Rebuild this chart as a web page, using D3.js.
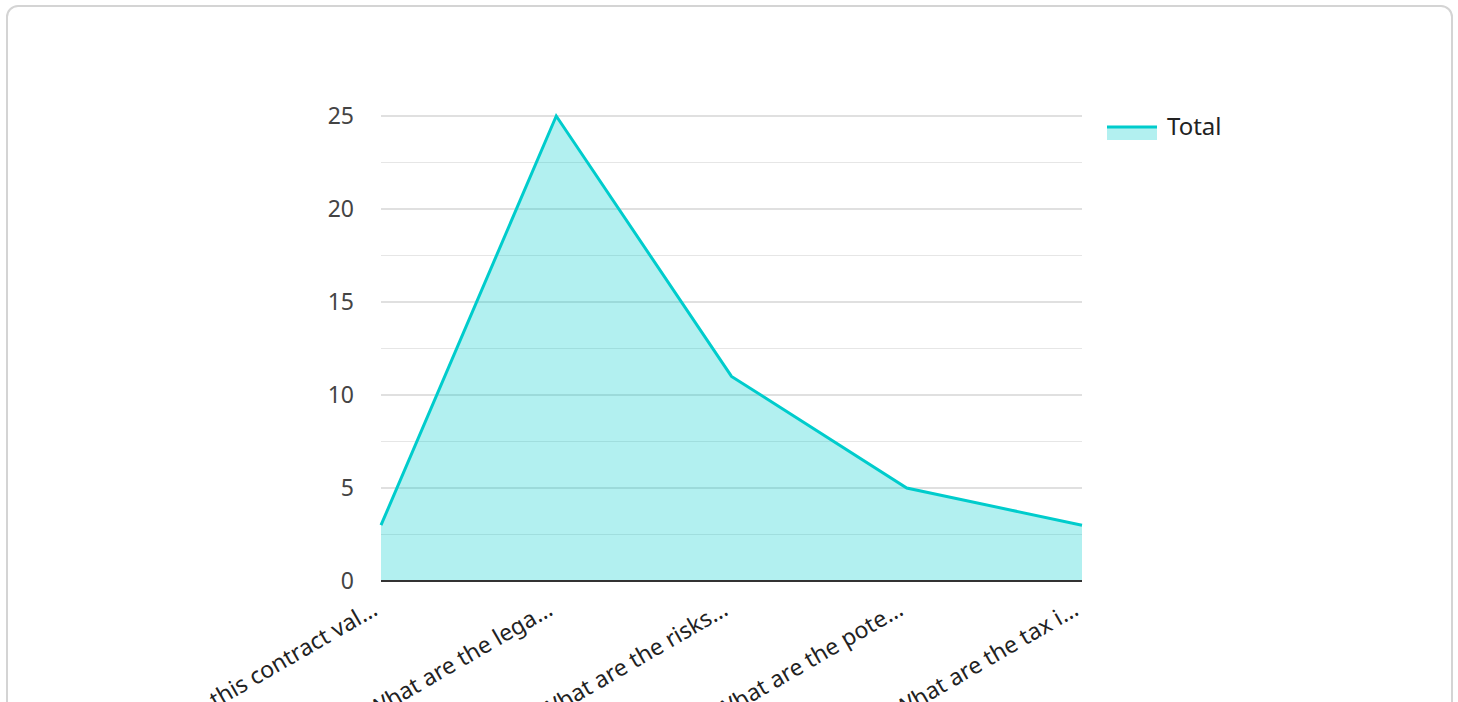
<!DOCTYPE html>
<html>
<head>
<meta charset="utf-8">
<script src="https://cdn.jsdelivr.net/npm/d3@7.9.0/dist/d3.min.js"></script>
<style>
  html, body { margin: 0; padding: 0; background: #fff; overflow: hidden; }
  body { width: 1458px; height: 702px; position: relative; font-family: "Noto Sans", sans-serif; }
  .card {
    position: absolute; left: 6px; top: 5px; width: 1447px; height: 720px;
    border: 2px solid #d4d4d4; border-radius: 12px; box-sizing: border-box; background: #fff;
  }
  svg { position: absolute; left: 0; top: 0; }
</style>
</head>
<body>
<div class="card"></div>
<svg id="chart" width="1458" height="702"></svg>
<script>
// question labels, as shown (truncated) on the axis
var categories = [
  'Is this contract val\u2026',
  'What are the lega\u2026',
  'What are the risks\u2026',
  'What are the pote\u2026',
  'What are the tax i\u2026'
]
var totals = [3, 25, 11, 5, 3]
var yTicks = [0, 5, 10, 15, 20, 25]
var yMinor = [2.5, 7.5, 12.5, 17.5, 22.5]
var seriesName = 'Total'

;(function () {
    var LINE = '#00cccc'
    var left = 381, right = 1082, top = 116, bottom = 581

    var svg = d3.select('#chart')

    var x = d3.scalePoint().domain(d3.range(categories.length)).range([left, right])
    var y = d3.scaleLinear().domain([0, 25]).range([bottom, top])

    // gridlines
    svg.append('g')
        .selectAll('line')
        .data(yMinor)
        .enter()
        .append('line')
        .attr('x1', left).attr('x2', right)
        .attr('y1', function (d) { return y(d) }).attr('y2', function (d) { return y(d) })
        .attr('stroke', '#e6e6e6').attr('stroke-width', 1.2)

    svg.append('g')
        .selectAll('line')
        .data(yTicks.filter(function (d) { return d > 0 }))
        .enter()
        .append('line')
        .attr('x1', left).attr('x2', right)
        .attr('y1', function (d) { return y(d) }).attr('y2', function (d) { return y(d) })
        .attr('stroke', '#c2c2c2').attr('stroke-width', 1.2)

    // area + line
    var pts = totals.map(function (v, i) { return [i, v] })
    var area = d3.area()
        .x(function (d) { return x(d[0]) })
        .y0(y(0))
        .y1(function (d) { return y(d[1]) })
    var line = d3.line()
        .x(function (d) { return x(d[0]) })
        .y(function (d) { return y(d[1]) })

    svg.append('path').datum(pts).attr('d', area).attr('fill', LINE).attr('fill-opacity', 0.3)
    svg.append('path').datum(pts).attr('d', line)
        .attr('fill', 'none').attr('stroke', LINE).attr('stroke-width', 3)

    // baseline
    svg.append('line')
        .attr('x1', left).attr('x2', right).attr('y1', y(0)).attr('y2', y(0))
        .attr('stroke', '#333').attr('stroke-width', 2)

    // y labels
    svg.append('g')
        .selectAll('text')
        .data(yTicks)
        .enter()
        .append('text')
        .attr('x', 354)
        .attr('y', function (d) { return y(d) })
        .attr('dy', '0.35em')
        .attr('text-anchor', 'end')
        .attr('font-size', '23px')
        .attr('fill', '#444')
        .text(function (d) { return d })

    // x labels, rotated
    svg.append('g')
        .selectAll('text')
        .data(categories)
        .enter()
        .append('text')
        .attr('transform', function (d, i) {
            return 'translate(' + (x(i) - 2) + ',' + 614 + ') rotate(-30)'
        })
        .attr('text-anchor', 'end')
        .attr('font-size', '23px')
        .attr('fill', '#222')
        .text(function (d) { return d })

    // legend
    var lg = svg.append('g').attr('transform', 'translate(1107,127)')
    lg.append('rect').attr('x', 0).attr('y', 0).attr('width', 50).attr('height', 13)
        .attr('fill', LINE).attr('fill-opacity', 0.3)
    lg.append('line').attr('x1', 0).attr('x2', 50).attr('y1', 0).attr('y2', 0)
        .attr('stroke', LINE).attr('stroke-width', 3)
    lg.append('text').attr('x', 60).attr('y', 0).attr('dy', '0.35em')
        .attr('font-size', '24px').attr('fill', '#222').text(seriesName)
})()
</script>
</body>
</html>
